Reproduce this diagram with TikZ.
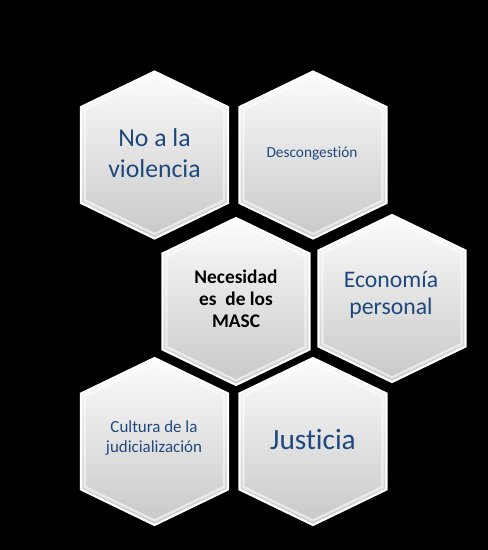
\documentclass[tikz,border=0pt]{standalone}
\usepackage{fontspec}
\setmainfont{Carlito}[Ligatures=NoCommon]
\begin{document}
\begin{tikzpicture}[x=0.75pt,y=-0.75pt,
  hexfill/.style={top color=hextop,bottom color=hexbot,draw=white,line width=1.6pt,line join=miter},
  hexbevel/.style={draw=white,draw opacity=0.55,line width=1.8pt},
  lbl/.style={text=txtblue,align=center,inner sep=0pt}]
\definecolor{hextop}{RGB}{252,252,252}
\definecolor{hexbot}{RGB}{200,200,200}
\definecolor{txtblue}{RGB}{31,73,125}
\fill[black] (0,0) rectangle (488,550);
\useasboundingbox (0,0) rectangle (488,550);
\newcommand\hexagono[2]{%
  \path[hexfill] (#1,#2) ++(0,-83.5) -- ++(73.5,35.5) -- ++(0,96) -- ++(-73.5,35.5) -- ++(-73.5,-35.5) -- ++(0,-96) -- cycle;
  \path[hexbevel] (#1,#2) ++(0,-79) -- ++(69.5,33.5) -- ++(0,91) -- ++(-69.5,33.5) -- ++(-69.5,-33.5) -- ++(0,-91) -- cycle;}
\hexagono{154.5}{155}
\hexagono{313}{155}
\hexagono{236}{301.5}
\hexagono{392}{298.5}
\hexagono{154.5}{441.5}
\hexagono{313}{441.5}
\node[lbl,font=\fontsize{19.3}{23}\selectfont] (v) at (154.5,153) {No a la\\violencia};
\node[lbl,font=\fontsize{11.5}{13.5}\selectfont] (d) at (312,154) {Descongestión};
\node[lbl,text=black,font=\bfseries\fontsize{14.5}{16.5}\selectfont] (n) at (236,299) {Necesidad\\es\ \ de los\\MASC};
\node[lbl,font=\fontsize{17.8}{20}\selectfont] (e) at (391,295) {Economía\\personal};
\node[lbl,font=\fontsize{12.7}{14.6}\selectfont] (c) at (154,438) {Cultura de la\\judicialización};
\node[lbl,font=\fontsize{22}{26}\selectfont] (j) at (313,440) {Justicia};
\end{tikzpicture}
\end{document}
